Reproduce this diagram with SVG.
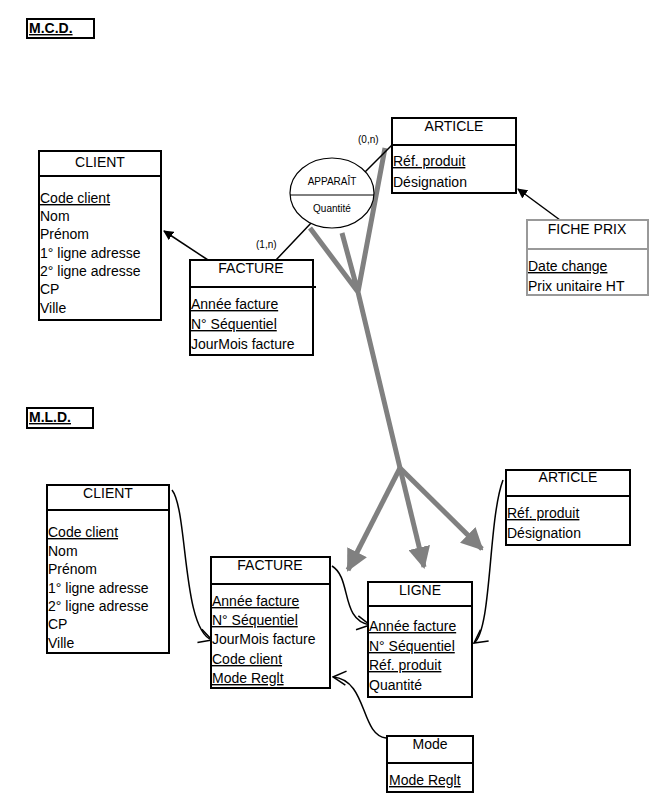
<svg xmlns="http://www.w3.org/2000/svg" width="666" height="804" viewBox="0 0 666 804">
<style>
text{font-family:"Liberation Sans",Arial,sans-serif;font-size:14px;fill:#000}
.t{text-anchor:middle}
.u{text-decoration:underline}
.s{font-size:10px}
.b{fill:#fff;stroke:#000;stroke-width:2}
.g{stroke:#808080;stroke-width:5;fill:none}
.c{stroke:#000;stroke-width:1.5;fill:none}
</style>
<defs>
<marker id="ah" markerWidth="10" markerHeight="10" refX="9" refY="5" orient="auto" markerUnits="userSpaceOnUse" viewBox="0 0 10 10"><path d="M0,0L10,5L0,10z" fill="#000"/></marker>
<marker id="ga" markerWidth="22" markerHeight="22" refX="20" refY="11" orient="auto" markerUnits="userSpaceOnUse" viewBox="0 0 22 22"><path d="M0,0L22,11L0,22z" fill="#808080"/></marker>
<marker id="ch" markerWidth="16" markerHeight="16" refX="15" refY="8" orient="auto" markerUnits="userSpaceOnUse" viewBox="0 0 16 16"><path d="M2,1L15,8L2,15" fill="none" stroke="#000" stroke-width="1.5"/></marker>
</defs>
<g id="mcd-label"><rect x="27" y="19" width="67" height="19" fill="none" stroke="#000" stroke-width="2"/><text x="29" y="33" class="u" font-weight="bold">M.C.D.</text></g>
<g id="mld-label"><rect x="27" y="408" width="66" height="20" fill="none" stroke="#000" stroke-width="2"/><text x="29" y="422" class="u" font-weight="bold">M.L.D.</text></g>
<g id="connectors">
<path class="g" d="M310,228L358,292M342,233L358,292M385,148L358,292L400,468"/>
<path class="g" d="M400,468L348,570" marker-end="url(#ga)"/>
<path class="g" d="M400,468L424,567" marker-end="url(#ga)"/>
<path class="g" d="M400,468L482,549" marker-end="url(#ga)"/>
<path class="c" d="M365,172L392,145M312,222L276,260"/>
<path class="c" d="M208,260L164,231" marker-end="url(#ah)"/>
<path class="c" d="M560,220L518,189" marker-end="url(#ah)"/>
<path class="c" d="M172,490C188,510 182,630 212,640" marker-end="url(#ch)"/>
<path class="c" d="M332,566C352,578 340,620 370,625" marker-end="url(#ch)"/>
<path class="c" d="M503,480C488,520 492,630 474,643" marker-end="url(#ch)"/>
<path class="c" d="M386,738C360,735 368,680 333,677" marker-end="url(#ch)"/>
</g>
<text x="358" y="143" class="s">(0,n)</text>
<text x="256" y="248" class="s">(1,n)</text>
<g id="apparait"><ellipse cx="332" cy="193" rx="42" ry="35" fill="#fff" stroke="#000" stroke-width="1.2"/><line x1="290" y1="195" x2="374" y2="195" stroke="#000"/><text x="332" y="185" class="t s">APPARAÎT</text><text x="332" y="212" class="t s">Quantité</text></g>
<g id="client1"><rect class="b" x="39" y="151" width="122" height="169"/><line x1="39" y1="176" x2="161" y2="176" stroke="#000" stroke-width="2"/><text x="100" y="167" class="t">CLIENT</text>
<text x="40" y="203" class="u">Code client</text><text x="40" y="221">Nom</text><text x="40" y="239">Prénom</text><text x="40" y="258">1° ligne adresse</text><text x="40" y="276">2° ligne adresse</text><text x="40" y="294">CP</text><text x="40" y="313">Ville</text></g>
<g id="facture1"><rect class="b" x="190" y="260" width="123" height="95"/><line x1="190" y1="287" x2="316" y2="287" stroke="#000" stroke-width="2"/><text x="251" y="273" class="t">FACTURE</text>
<text x="191" y="309" class="u">Année facture</text><text x="191" y="329" class="u">N° Séquentiel</text><text x="191" y="349">JourMois facture</text></g>
<g id="article1"><rect class="b" x="392" y="118" width="124" height="75"/><line x1="392" y1="145" x2="516" y2="145" stroke="#000" stroke-width="2"/><text x="454" y="131" class="t">ARTICLE</text>
<text x="393" y="166" class="u">Réf. produit</text><text x="393" y="187">Désignation</text></g>
<g id="ficheprix"><rect x="527" y="220" width="121" height="75" fill="#fff" stroke="#999" stroke-width="2"/><line x1="527" y1="249" x2="648" y2="249" stroke="#999" stroke-width="2"/><text x="587" y="234" class="t">FICHE PRIX</text>
<text x="528" y="271" class="u">Date change</text><text x="528" y="291">Prix unitaire HT</text></g>
<g id="client2"><rect class="b" x="47" y="485" width="122" height="168"/><line x1="47" y1="510" x2="169" y2="510" stroke="#000" stroke-width="2"/><text x="108" y="498" class="t">CLIENT</text>
<text x="48" y="537" class="u">Code client</text><text x="48" y="556">Nom</text><text x="48" y="574">Prénom</text><text x="48" y="593">1° ligne adresse</text><text x="48" y="611">2° ligne adresse</text><text x="48" y="629">CP</text><text x="48" y="648">Ville</text></g>
<g id="facture2"><rect class="b" x="211" y="557" width="119" height="131"/><line x1="211" y1="584" x2="330" y2="584" stroke="#000" stroke-width="2"/><text x="270" y="570" class="t">FACTURE</text>
<text x="212" y="606" class="u">Année facture</text><text x="212" y="625" class="u">N° Séquentiel</text><text x="212" y="644">JourMois facture</text><text x="212" y="664" class="u">Code client</text><text x="212" y="683" class="u">Mode Reglt</text></g>
<g id="ligne"><rect class="b" x="368" y="582" width="104" height="115"/><line x1="368" y1="606" x2="472" y2="606" stroke="#000" stroke-width="2"/><text x="420" y="595" class="t">LIGNE</text>
<text x="369" y="631" class="u">Année facture</text><text x="369" y="651" class="u">N° Séquentiel</text><text x="369" y="670" class="u">Réf. produit</text><text x="369" y="690">Quantité</text></g>
<g id="article2"><rect class="b" x="506" y="470" width="124" height="75"/><line x1="506" y1="496" x2="630" y2="496" stroke="#000" stroke-width="2"/><text x="568" y="482" class="t">ARTICLE</text>
<text x="507" y="518" class="u">Réf. produit</text><text x="507" y="538">Désignation</text></g>
<g id="mode"><rect class="b" x="387" y="736" width="86" height="56"/><line x1="387" y1="763" x2="473" y2="763" stroke="#000" stroke-width="2"/><text x="430" y="749" class="t">Mode</text>
<text x="389" y="785" class="u">Mode Reglt</text></g>
</svg>
